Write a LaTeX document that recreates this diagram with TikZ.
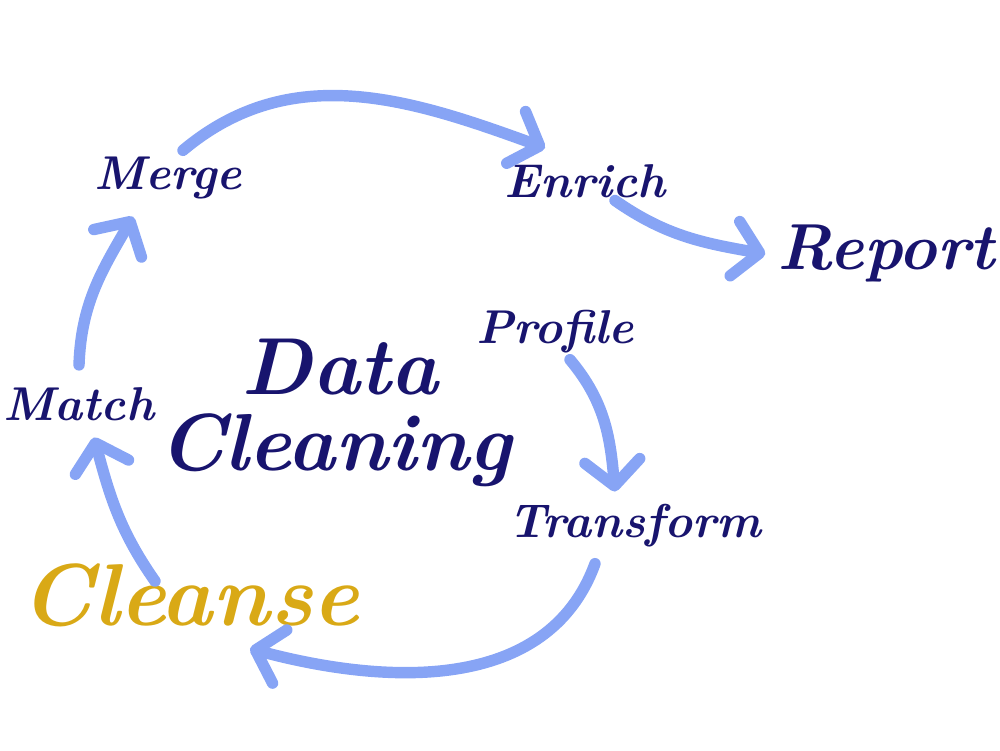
\documentclass[tikz,border=0pt]{standalone}
\usepackage{tikz}
\usetikzlibrary{positioning,arrows.meta}

\definecolor{inkblue}{RGB}{24,20,110}
\definecolor{gold}{RGB}{217,169,22}
\definecolor{flowblue}{RGB}{135,164,245}

\begin{document}
\begin{tikzpicture}[
  word/.style={text=inkblue, anchor=base, inner sep=1pt, font=\fontsize{27}{29}\selectfont\bfseries\itshape},
  big/.style={word, font=\fontsize{46}{48}\selectfont\bfseries\itshape},
  flow/.style={draw=flowblue, line width=6.5pt, line cap=round,
    -{Straight Barb[length=5mm, width=11mm, round]}}
]
\useasboundingbox (0,0) rectangle (20,15);

\node[word] (merge) at (3.36,11.2) {Merge};
\node[word] (enrich) at (11.7,11.04) {Enrich};
\node[word, font=\fontsize{37}{39}\selectfont\bfseries\itshape] (report) at (17.72,9.6) {Report};
\node[word] (profile) at (11.1,8.14) {Profile};
\node[big] (data) at (6.8,7.1) {Data};
\node[big] (cleaning) at (6.7,5.6) {Cleaning};
\node[word] (match) at (1.58,6.6) {Match};
\node[word] (transform) at (12.7,4.26) {Transform};
\node[big, font=\fontsize{50}{52}\selectfont\bfseries\itshape, text=gold] (cleanse) at (3.8,2.5) {Cleanse};

\draw[flow] ([xshift=3mm,yshift=1mm]merge.north) to[out=40, in=160] ([xshift=-8mm,yshift=3mm]enrich.north);
\draw[flow] ([xshift=6mm]enrich.south) to[out=-35, in=170] ([xshift=-2mm]report.west);
\draw[flow] ([xshift=3mm,yshift=-1mm]profile.south) to[out=-50, in=95] ([xshift=-4mm,yshift=2mm]transform.north);
\draw[flow] ([xshift=-8mm,yshift=-3mm]transform.south) to[out=-110, in=-15] ([xshift=1.2cm,yshift=-4mm]cleanse.south);
\draw[flow] ([xshift=-7mm,yshift=-4mm]cleanse.north) to[out=125, in=-75] ([xshift=3mm,yshift=-3mm]match.south);
\draw[flow] ([yshift=4mm]match.north) to[out=88, in=-120] ([xshift=-7mm,yshift=-3mm]merge.south);
\end{tikzpicture}
\end{document}
